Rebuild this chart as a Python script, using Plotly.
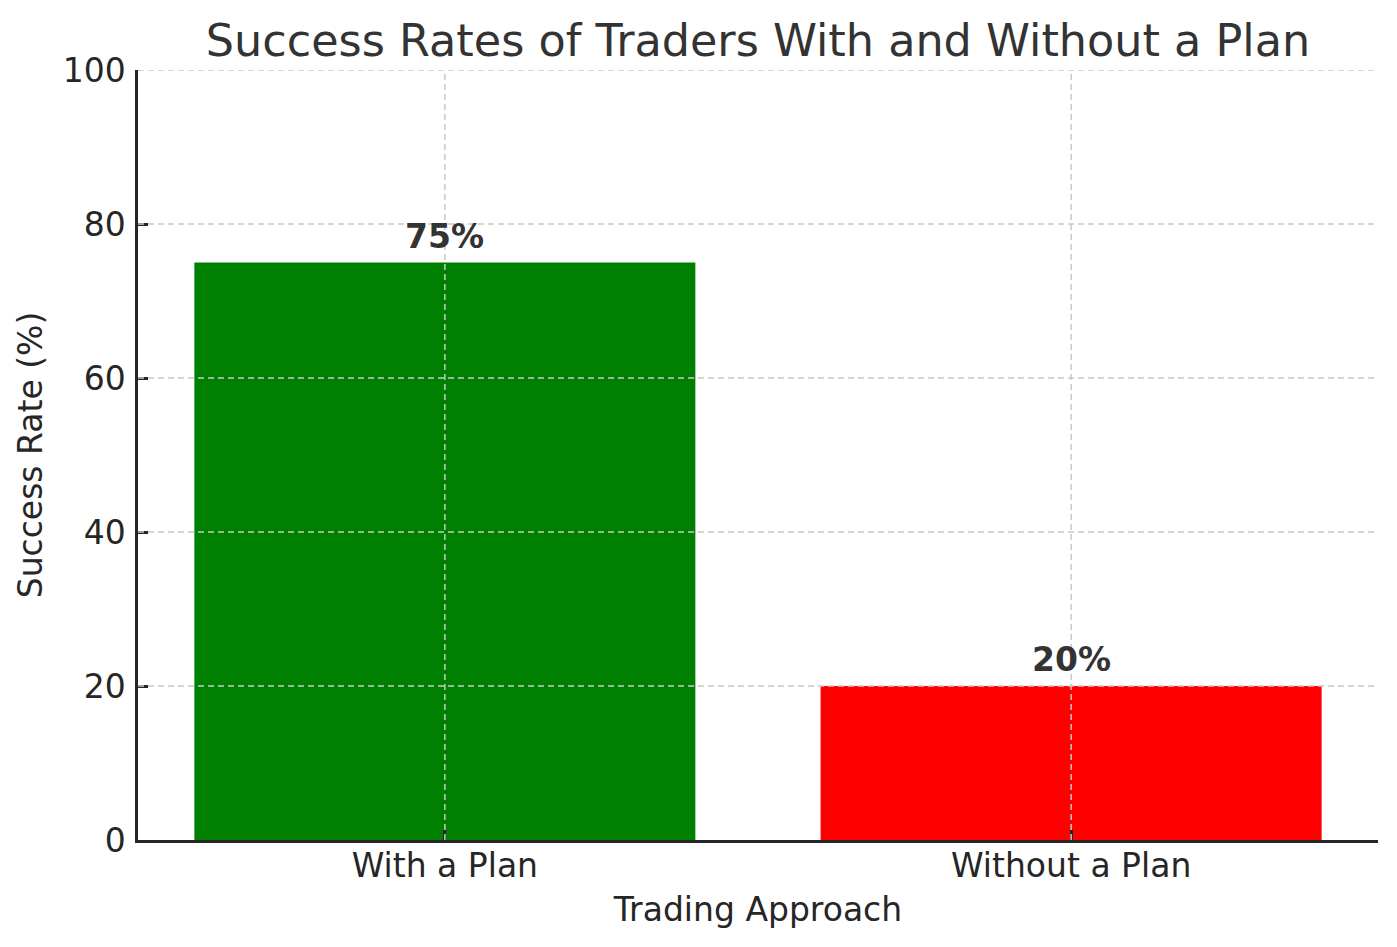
import plotly.graph_objects as go

# data
approaches = ["With a Plan", "Without a Plan"]
success_rates = [75, 20]
bar_colours = ["#008000", "#ff0000"]
y_ticks = [0, 20, 40, 60, 80, 100]

FONT = "DejaVu Sans"
INK = "#262626"
GRID = "#c8c8c8"

# the page body keeps its 8px default margin, so the figure is sized to fit
W, H = 1381, 931

fig = go.Figure(go.Bar(
    x=list(range(len(approaches))), y=success_rates,
    width=0.8, marker={"color": bar_colours, "line": {"width": 0}},
    hoverinfo="skip",
))

# bold value labels just above each bar
for i, v in enumerate(success_rates):
    fig.add_annotation(x=i, y=v, text=f"<b>{v}%</b>", showarrow=False,
                       yanchor="bottom", yshift=5,
                       font={"family": FONT, "size": 33, "color": "#333333"})

# matplotlib draws its dashed grid on top of the bars, so use shapes
for t in y_ticks[1:]:
    fig.add_shape(type="line", xref="paper", yref="y", x0=0, x1=1, y0=t, y1=t,
                  layer="above", line={"color": GRID, "width": 1.5,
                                       "dash": "6px,4px"})
for i in range(len(approaches)):
    fig.add_shape(type="line", xref="x", yref="paper", x0=i, x1=i, y0=0, y1=1,
                  layer="above", line={"color": GRID, "width": 1.5,
                                       "dash": "6px,4px"})

axis_common = dict(
    showgrid=False, zeroline=False, showline=True, linecolor=INK, linewidth=2.5,
    ticks="inside", ticklen=10, tickwidth=2.5, tickcolor=INK,
    tickfont={"family": FONT, "size": 33, "color": INK},
    title_font={"family": FONT, "size": 33, "color": INK},
)

fig.update_xaxes(**axis_common, range=[-0.49, 1.49], tickmode="array",
                 tickvals=list(range(len(approaches))), ticktext=approaches,
                 ticklabelstandoff=-5,
                 title_text="Trading Approach", title_standoff=14)
fig.update_yaxes(**axis_common, range=[0, 100], tickmode="array",
                 tickvals=y_ticks, ticklabelstandoff=3,
                 title_text="Success Rate (%)", title_standoff=11)

fig.update_layout(
    width=W, height=H,
    margin={"l": 130, "r": 11, "t": 62, "b": 99},
    paper_bgcolor="white", plot_bgcolor="white",
    showlegend=False,
    title={"text": "Success Rates of Traders With and Without a Plan",
           "xref": "paper", "x": 0.5, "xanchor": "center",
           "y": 1 - 32 / H, "yanchor": "middle",
           "font": {"family": FONT, "size": 44.5, "color": "#333333"}},
)

fig.write_html("out.html")
